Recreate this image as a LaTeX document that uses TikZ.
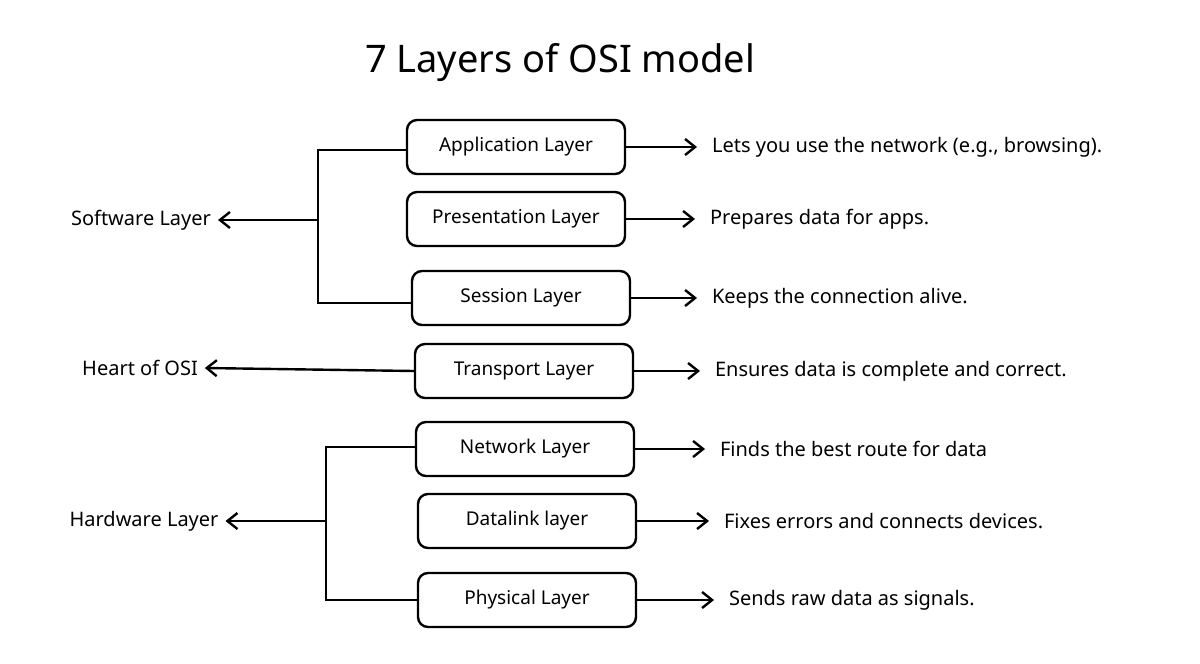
\documentclass[tikz,border=0pt]{standalone}
\usepackage{fontspec}
\setmainfont{Noto Sans}
\usetikzlibrary{arrows.meta}
\tikzset{
  layer/.style={draw, line width=1.2pt, rounded corners=5pt, minimum width=109pt, minimum height=27pt, font=\fontsize{9.5}{11}\selectfont},
  note/.style={font=\fontsize{10}{12}\selectfont},
  arr/.style={line width=1.2pt, -{Straight Barb[length=5pt,width=8pt]}},
  brk/.style={line width=1.2pt}
}
\begin{document}
\begin{tikzpicture}[x=0.5pt, y=-0.5pt]
\useasboundingbox (0,0) rectangle (1200,664);

\node[font=\fontsize{19}{22}\selectfont] (title) at (560,63) {7 Layers of OSI model};

% the seven layers
\node[layer] (app) at (516,147) {Application Layer};
\node[layer] (pres) at (516,219) {Presentation Layer};
\node[layer] (sess) at (521,298) {Session Layer};
\node[layer] (trans) at (524,371) {Transport Layer};
\node[layer] (net) at (525,449) {Network Layer};
\node[layer] (dl) at (527,521) {Datalink layer};
\node[layer] (phy) at (527,600) {Physical Layer};

% what each layer does
\node[note, anchor=west] (dapp) at (705,147) {Lets you use the network (e.g., browsing).};
\node[note, anchor=west] (dpres) at (703,219) {Prepares data for apps.};
\node[note, anchor=west] (dsess) at (705,298) {Keeps the connection alive.};
\node[note, anchor=west] (dtrans) at (708,371) {Ensures data is complete and correct.};
\node[note, anchor=west] (dnet) at (713,449) {Finds the best route for data};
\node[note, anchor=west] (ddl) at (717,521) {Fixes errors and connects devices.};
\node[note, anchor=west] (dphy) at (722,600) {Sends raw data as signals.};

\foreach \a/\b in {app/dapp,pres/dpres,sess/dsess,trans/dtrans,net/dnet,dl/ddl,phy/dphy}{
\draw[arr] (\a.east) -- ([xshift=-4pt]\b.west);
}

% groups
\node[note] (soft) at (141,220) {Software Layer};
\node[note] (heart) at (140,368) {Heart of OSI};
\node[note] (hard) at (144,521) {Hardware Layer};

\coordinate (st) at (318,150);
\coordinate (sb) at (318,303);
\coordinate (sm) at (318,220);
\draw[brk] (app.west |- st) -- (st) -- (sb) -- (sess.west |- sb);
\draw[arr] (sm) -- (soft.east);

\draw[arr] (trans.west) -- (heart.east);

\coordinate (ht) at (326,447);
\coordinate (hb) at (326,600);
\coordinate (hm) at (326,521);
\draw[brk] (net.west |- ht) -- (ht) -- (hb) -- (phy.west);
\draw[arr] (hm) -- (hard.east);

\end{tikzpicture}
\end{document}
